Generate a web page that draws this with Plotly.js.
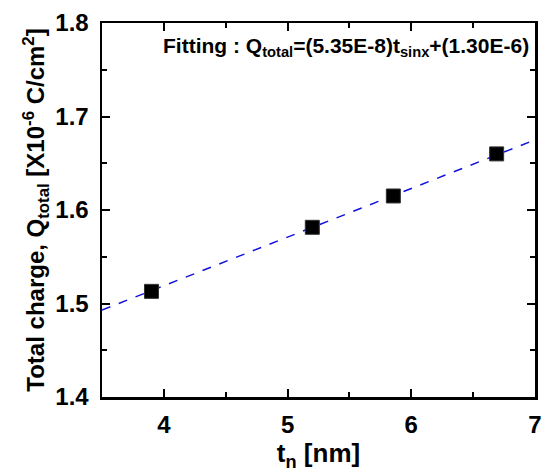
<!DOCTYPE html>
<html>
<head>
<meta charset="utf-8">
<script src="https://cdn.plot.ly/plotly-3.0.1.min.js"></script>
<style>html,body{margin:0;padding:0;background:#fff;}#chart{width:550px;height:475px;}</style>
</head>
<body>
<div id="chart"></div>
<script>
var thickness = [3.9, 5.2, 5.855, 6.69];
var charge = [1.513, 1.5815, 1.615, 1.660];
var fitX = [3.5, 7.0];
var fitY = [1.493, 1.675];
var xTicks = [4, 5, 6, 7];
var yTicks = [1.4, 1.5, 1.6, 1.7, 1.8];
var yTickLabels = ['1.4', '1.5', '1.6', '1.7', '1.8'];

var FONT = 'Liberation Sans, Arial, sans-serif';

var traces = [
  {
    x: fitX, y: fitY, mode: 'lines', type: 'scatter',
    line: {color: '#1010e0', width: 1.5, dash: 'dash'},
    hoverinfo: 'skip', showlegend: false
  },
  {
    x: thickness, y: charge, mode: 'markers', type: 'scatter',
    marker: {symbol: 'square', size: 14, color: '#000', line: {color: '#333', width: 1}},
    showlegend: false
  }
];

var axisCommon = {
  showgrid: false, zeroline: false,
  showline: true, linecolor: '#000', linewidth: 2.5,
  mirror: 'allticks', ticks: 'inside', ticklen: 8, tickwidth: 2, tickcolor: '#000',
  tickfont: {family: FONT, size: 24, color: '#000'}
};

var layout = {
  width: 550, height: 475,
  margin: {l: 102, r: 15, t: 23, b: 78},
  paper_bgcolor: '#fff', plot_bgcolor: '#fff',
  font: {family: FONT, color: '#000'},
  xaxis: Object.assign({}, axisCommon, {
    range: [3.5, 7], tickmode: 'array', tickvals: xTicks,
    ticktext: xTicks.map(function (v) { return '<b>' + v + '</b>'; }),
    ticklabelstandoff: 5,
    minor: {dtick: 0.5, tick0: 3.5, ticks: 'inside', ticklen: 5, tickwidth: 2, tickcolor: '#000'},
    title: {text: '<b>t<sub>n</sub> [nm]</b>', font: {family: FONT, size: 26, color: '#000'}, standoff: 0}
  }),
  yaxis: Object.assign({}, axisCommon, {
    range: [1.4, 1.8], tickmode: 'array', tickvals: yTicks,
    ticktext: yTickLabels.map(function (v) { return '<b>' + v + '</b>'; }),
    ticklabelstandoff: 6,
    minor: {dtick: 0.05, tick0: 1.4, ticks: 'inside', ticklen: 5, tickwidth: 2, tickcolor: '#000'},
    title: {text: '<b>Total charge, Q<sub>total</sub> [X10<sup>-6</sup> C/cm<sup>2</sup>]</b>', font: {family: FONT, size: 24, color: '#000'}, standoff: 4}
  }),
  annotations: [{
    xref: 'paper', yref: 'paper', x: 0.99, y: 0.935, xanchor: 'right', yanchor: 'middle',
    showarrow: false,
    text: '<b>Fitting : Q<sub>total</sub>=(5.35E-8)t<sub>sinx</sub>+(1.30E-6)</b>',
    font: {family: FONT, size: 21, color: '#000'}
  }]
};

Plotly.newPlot('chart', traces, layout, {displayModeBar: false, staticPlot: true});
</script>
</body>
</html>
